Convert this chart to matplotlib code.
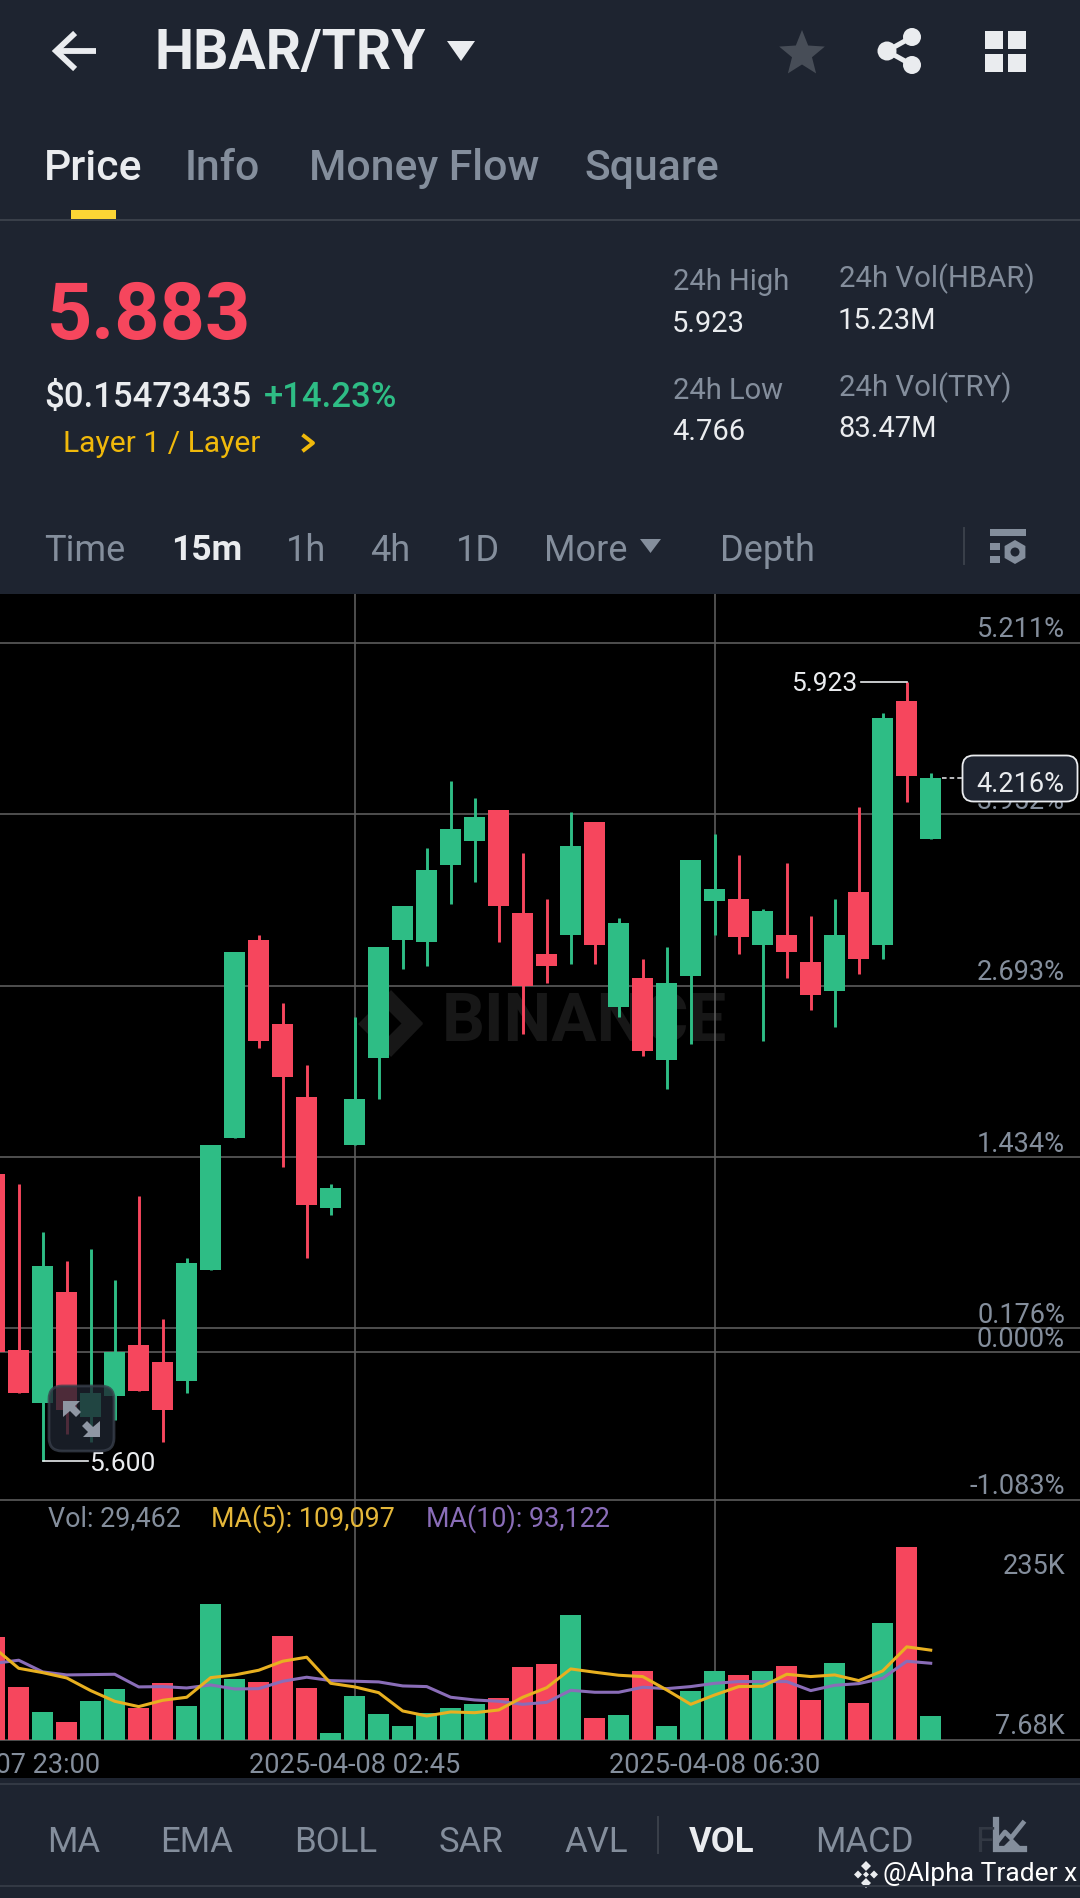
import numpy as np
import matplotlib
matplotlib.use("Agg")
import matplotlib.pyplot as plt
from matplotlib.patches import Rectangle, Polygon, Circle, FancyBboxPatch

plt.rcParams['font.family'] = ['Roboto', 'DejaVu Sans']

# 15m candles, oldest first, the first one is cut by the left edge
opens = [5.719, 5.646, 5.624, 5.670, 5.618, 5.627, 5.648, 5.641, 5.633, 5.679,
         5.734, 5.816, 5.781, 5.751, 5.705, 5.731, 5.767, 5.816, 5.815, 5.847,
         5.857, 5.870, 5.827, 5.810, 5.818, 5.865, 5.788, 5.800, 5.766, 5.801,
         5.832, 5.833, 5.814, 5.818, 5.807, 5.795, 5.836, 5.814, 5.915, 5.858]
highs = [5.719, 5.715, 5.695, 5.683, 5.688, 5.675, 5.710, 5.659, 5.684, 5.731,
         5.811, 5.818, 5.790, 5.764, 5.715, 5.784, 5.813, 5.830, 5.854, 5.882,
         5.875, 5.870, 5.852, 5.833, 5.869, 5.865, 5.825, 5.808, 5.813, 5.849,
         5.860, 5.851, 5.829, 5.848, 5.826, 5.833, 5.871, 5.910, 5.923, 5.885]
lows = [5.645, 5.628, 5.600, 5.611, 5.608, 5.617, 5.629, 5.608, 5.628, 5.679,
        5.734, 5.771, 5.722, 5.684, 5.702, 5.731, 5.750, 5.804, 5.805, 5.831,
        5.840, 5.815, 5.777, 5.798, 5.806, 5.806, 5.784, 5.768, 5.754, 5.773,
        5.818, 5.810, 5.774, 5.800, 5.787, 5.780, 5.802, 5.808, 5.873, 5.858]
closes = [5.645, 5.628, 5.681, 5.621, 5.628, 5.645, 5.629, 5.621, 5.682, 5.731,
          5.811, 5.774, 5.759, 5.706, 5.713, 5.750, 5.813, 5.830, 5.845, 5.862,
          5.867, 5.830, 5.797, 5.805, 5.855, 5.814, 5.823, 5.770, 5.798, 5.849,
          5.837, 5.817, 5.828, 5.811, 5.793, 5.818, 5.808, 5.908, 5.884, 5.883]

volume_k = [124.9, 64.3, 33.3, 21.6, 47.2, 61.8, 38.2, 69.5, 40.7, 165.9,
            73.6, 70.4, 126.5, 63.0, 7.68, 53.3, 30.9, 17.1, 32.9, 38.2,
            43.1, 50.8, 89.1, 92.7, 152.5, 26.4, 29.7, 83.4, 16.3, 59.0,
            83.8, 79.3, 83.8, 89.9, 48.0, 93.5, 45.1, 141.9, 235.0, 29.462]
ma5_k = [111.4, 87.0, 81.7, 75.2, 59.8, 46.8, 40.3, 48.0, 51.7, 75.6,
         78.9, 84.6, 95.6, 100.5, 68.7, 64.3, 57.3, 35.0, 28.9, 33.8,
         32.9, 36.2, 51.7, 63.4, 86.2, 82.2, 78.5, 76.9, 60.6, 43.1,
         54.5, 64.7, 65.1, 79.7, 76.9, 78.9, 72.0, 83.8, 113.1, 109.097]
ma10_k = [93.1, 96.8, 82.6, 78.9, 79.3, 79.7, 64.3, 64.7, 63.0, 66.7,
          61.8, 62.2, 71.2, 76.1, 72.0, 71.2, 70.4, 65.5, 64.7, 51.7,
          48.4, 46.8, 43.1, 45.5, 60.2, 57.8, 57.8, 63.9, 62.2, 64.7,
          68.7, 70.8, 70.8, 70.8, 59.8, 66.3, 68.3, 74.8, 95.6, 93.122]

base_price = 5.645
pct_ticks = [5.211, 3.952, 2.693, 1.434, 0.176, 0.000, -1.083]
pct_labels = ['5.211%', '3.952%', '2.693%', '1.434%', '0.176%', '0.000%', '-1.083%']
time_ticks = [0, 15, 30]
time_labels = ['2025-04-07 23:00', '2025-04-08 02:45', '2025-04-08 06:30']

BG = '#1e2430'
GREEN = '#2ebd85'
RED = '#f6465d'
YELLOW = '#f0b90b'
PURPLE = '#8a6db8'
GREY = '#848e9c'
WHITE = '#eaecef'
LINE = '#5c5c5c'

W, H = 1080, 1898
fig = plt.figure(figsize=(W / 100, H / 100), dpi=100, facecolor=BG)


def px_axes(left, top, right, bottom, z):
    a = fig.add_axes([left / W, 1 - bottom / H, (right - left) / W, (bottom - top) / H], zorder=z)
    a.patch.set_visible(False)
    return a


# bottom layer, the black chart panel and the watermark
base = px_axes(0, 0, W, H, 0)
base.set_xlim(0, W)
base.set_ylim(H, 0)
base.axis('off')
base.add_patch(Rectangle((0, 594), W, 1184, color='black', lw=0))
wm = '#171717'
for pts in ([(391, 990), (423, 1023), (412, 1034), (380, 1002)],
            [(391, 1057), (423, 1024), (412, 1013), (380, 1045)],
            [(358, 1024), (370, 1012), (382, 1024), (370, 1036)]):
    base.add_patch(Polygon(pts, color=wm, lw=0))
base.text(442, 1023, 'BINANCE', color=wm, fontsize=48.5, fontweight='bold', va='center', ha='left')

# candles
x = np.arange(len(closes))
up = np.array(closes) >= np.array(opens)
colors = [GREEN if u else RED for u in up]
lo_body = np.minimum(opens, closes)
hi_body = np.maximum(opens, closes)

ax = px_axes(-48, 594, W, 1499, 2)
ax.set_xlim(-1.779, 45.22)
ax.set_ylim(5.5842, 5.9594)
ax.axis('off')
for p, lab in zip(pct_ticks, pct_labels):
    level = base_price * (1 + p / 100)
    ax.axhline(level, color=LINE, lw=1.2, zorder=1, clip_on=False)
    ax.annotate(lab, xy=(1, level), xycoords=ax.get_yaxis_transform(), xytext=(-15, 13),
                textcoords='offset pixels', ha='right', va='center', color=GREY, fontsize=19.5, zorder=1)
for t in time_ticks[1:]:
    ax.axvline(t, color=LINE, lw=1.2, zorder=1)
ax.vlines(x, lows, highs, colors=colors, lw=2.1, zorder=3)
ax.bar(x, hi_body - lo_body, bottom=lo_body, width=0.875, color=colors, zorder=4)

# high / low markers
hi_i = int(np.argmax(highs))
lo_i = int(np.argmin(lows))
ax.plot([hi_i - 1.9, hi_i], [highs[hi_i], highs[hi_i]], color=WHITE, lw=1.2, zorder=5)
ax.annotate('5.923', xy=(hi_i - 2.05, highs[hi_i]), xytext=(0, -2), textcoords='offset pixels',
            color=WHITE, fontsize=19, ha='right', va='center', zorder=5)
ax.plot([lo_i, lo_i + 1.9], [lows[lo_i], lows[lo_i]], color=WHITE, lw=1.2, zorder=5)
ax.annotate('5.600', xy=(lo_i + 1.93, lows[lo_i]), xytext=(0, -3), textcoords='offset pixels',
            color=WHITE, fontsize=19, ha='left', va='center', zorder=5)
ax.plot([x[-1] + 0.45, x[-1] + 1.35], [closes[-1], closes[-1]], color=WHITE, lw=1.1, ls=(0, (3, 2)), zorder=5)

# volume panel
vax = px_axes(-48, 1499, W, 1739.7, 2)
vax.set_xlim(-1.779, 45.22)
vax.set_ylim(0, 293.2)
for s in vax.spines.values():
    s.set_visible(False)
vax.spines['bottom'].set_visible(True)
vax.spines['bottom'].set_color(LINE)
vax.spines['bottom'].set_linewidth(1.2)
vax.set_yticks([])
vax.set_xticks(time_ticks)
vax.set_xticklabels(time_labels, color=GREY, fontsize=19.5)
vax.tick_params(axis='x', length=0, pad=9)
for t in time_ticks[1:]:
    vax.axvline(t, color=LINE, lw=1.2, zorder=1)
vax.bar(x, volume_k, width=0.875, color=colors, zorder=3)
vax.plot(x, ma10_k, color=PURPLE, lw=2.2, zorder=4)
vax.plot(x, ma5_k, color='#e8b020', lw=2.2, zorder=5)
vax.annotate('235K', xy=(1, 235), xycoords=vax.get_yaxis_transform(), xytext=(-15, -20),
             textcoords='offset pixels', ha='right', va='center', color=GREY, fontsize=19.5)
vax.annotate('7.68K', xy=(1, 7.68), xycoords=vax.get_yaxis_transform(), xytext=(-15, 7),
             textcoords='offset pixels', ha='right', va='center', color=GREY, fontsize=19.5)

# app chrome on top
ui = px_axes(0, 0, W, H, 5)
ui.set_xlim(0, W)
ui.set_ylim(H, 0)
ui.axis('off')


def label(px, py, s, size, color=GREY, ha='left', weight='normal'):
    ui.text(px, py + 2, s, fontsize=size, color=color, ha=ha, va='center', fontweight=weight)


def tri(x0, x1, y0, y1, color):
    ui.add_patch(Polygon([(x0, y0), (x1, y0), ((x0 + x1) / 2, y1)], color=color, lw=0))


# header
ui.plot([57, 96], [51, 51], color=WHITE, lw=4.2, solid_capstyle='butt')
ui.plot([73, 56, 73], [35, 51, 67], color=WHITE, lw=4.2, solid_joinstyle='miter')
label(154, 52, 'HBAR/TRY', 39.8, WHITE, weight='bold')
tri(447, 475, 41, 61, WHITE)
ang = np.arange(10) * np.pi / 5 - np.pi / 2
rad = np.where(np.arange(10) % 2 == 0, 24, 10.5)
ui.add_patch(Polygon(np.c_[802 + rad * np.cos(ang), 54 + rad * np.sin(ang)], color='#474d57', lw=0))
ui.plot([912, 887, 912], [37, 51, 65], color=WHITE, lw=3.6)
for cx, cy, r in ((912, 37, 9), (887, 51, 9.5), (912, 65, 9)):
    ui.add_patch(Circle((cx, cy), r, color=WHITE, lw=0))
for gx, gy in ((985, 31), (1008, 31), (985, 54), (1008, 54)):
    ui.add_patch(Rectangle((gx, gy), 17.5, 17.5, color=WHITE, lw=0))

# tabs
label(44, 166, 'Price', 30.8, WHITE, weight='medium')
label(185, 166, 'Info', 30.8, GREY, weight='medium')
label(309, 166, 'Money Flow', 30.8, GREY, weight='medium')
label(584, 166, 'Square', 30.8, GREY, weight='medium')
ui.add_patch(Rectangle((71, 210), 45, 9, color='#fcd535', lw=0))
ui.plot([0, W], [220, 220], color='#3a404a', lw=1.4)

# price block
label(47, 315, '5.883', 57, RED, weight='bold')
label(44, 395, '$0.15473435', 25, WHITE, weight='medium')
label(264, 395, '+14.23%', 25, GREEN, weight='medium')
label(63, 442, 'Layer 1 / Layer', 21.6, YELLOW)
ui.plot([304, 313, 304], [436, 443, 450], color=YELLOW, lw=2.8)
label(673, 280, '24h High', 21)
label(672, 322, '5.923', 21, WHITE)
label(673, 389, '24h Low', 21)
label(672, 430, '4.766', 21, WHITE)
label(839, 277, '24h Vol(HBAR)', 21.2)
label(838, 319, '15.23M', 21, WHITE)
label(839, 386, '24h Vol(TRY)', 21.2)
label(838, 427, '83.47M', 21, WHITE)

# interval row
label(44, 549, 'Time', 26)
label(171, 549, '15m', 25.5, WHITE, weight='bold')
label(286, 549, '1h', 26)
label(370, 549, '4h', 26)
label(456, 549, '1D', 26)
label(544, 549, 'More', 26)
tri(640, 661, 539, 553, GREY)
label(720, 549, 'Depth', 26)
ui.plot([964, 964], [528, 564], color='#3a404a', lw=1.4)
ui.add_patch(Rectangle((990, 529), 36, 7, color=GREY, lw=0))
ui.add_patch(Rectangle((990, 543), 10, 7, color=GREY, lw=0))
ui.add_patch(Rectangle((990, 556), 10, 7, color=GREY, lw=0))
hex_a = np.arange(6) * np.pi / 3 + np.pi / 6
ui.add_patch(Polygon(np.c_[1015 + 12 * np.cos(hex_a), 552 + 12 * np.sin(hex_a)], color=GREY, lw=0))
ui.add_patch(Circle((1015, 552), 4.5, color=BG, lw=0))

# last price badge
ui.add_patch(FancyBboxPatch((970, 763), 100, 31, boxstyle='round,pad=7.5,rounding_size=11',
                            fc=BG, ec=WHITE, lw=1.3))
label(1064, 782, '4.216%', 19.5, WHITE, ha='right')

# zoom button over the candles
ui.add_patch(FancyBboxPatch((58, 1395), 47, 47, boxstyle='round,pad=9,rounding_size=13',
                            fc=BG, ec='#39404c', lw=2, alpha=0.78))
ui.add_patch(Polygon([(63, 1401), (80, 1401), (75, 1406), (81, 1412), (76, 1417), (70, 1411), (63, 1417)],
                     color='#8f96a3', lw=0))
ui.add_patch(Polygon([(100, 1437), (83, 1437), (88, 1432), (82, 1426), (87, 1421), (93, 1427), (100, 1421)],
                     color='#8f96a3', lw=0))

# legend of the volume panel
label(48, 1517, 'Vol: 29,462', 19.4)
label(211, 1517, 'MA(5): 109,097', 19.4, '#e4b73a')
label(426, 1517, 'MA(10): 93,122', 19.4, PURPLE)

# indicator bar
ui.plot([0, W], [1784, 1784], color='#343a45', lw=1.4)
ui.plot([0, W], [1886, 1886], color='#343a45', lw=1.4)
label(74, 1840, 'MA', 25, ha='center')
label(197, 1840, 'EMA', 25, ha='center')
label(336, 1840, 'BOLL', 25, ha='center')
label(471, 1840, 'SAR', 25, ha='center')
label(596, 1840, 'AVL', 25, ha='center')
label(722, 1840, 'VOL', 25, WHITE, ha='center', weight='bold')
label(864, 1840, 'MACD', 25, ha='center')
label(975, 1840, 'F', 25, '#323843')
ui.plot([658, 658], [1817, 1853], color='#3a404a', lw=1.4)
ui.plot([996, 996, 1024], [1820, 1849, 1849], color=GREY, lw=4.5, solid_joinstyle='miter')
ui.plot([997, 1005, 1011, 1023], [1842, 1832, 1838, 1823], color=GREY, lw=3.4)
ui.add_patch(Polygon([(1004, 1846), (1012, 1838), (1020, 1846)], color=GREY, lw=0))

# reposter tag
for cx, cy, r in ((866, 1866, 5), (858, 1874.5, 4), (874, 1874.5, 4), (866, 1874.5, 3), (866, 1883, 5)):
    a = np.arange(4) * np.pi / 2
    ui.add_patch(Polygon(np.c_[cx + r * np.cos(a), cy + r * np.sin(a)], color=WHITE, lw=0))
label(883, 1872, '@Alpha Trader x', 19, 'white')

fig.savefig('out.png', dpi=100, facecolor=BG)
